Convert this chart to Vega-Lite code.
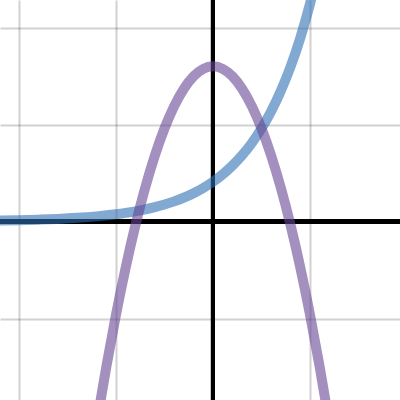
{
  "$schema": "https://vega.github.io/schema/vega-lite/v6.json",
  "width": 400,
  "height": 400,
  "autosize": {"type": "fit", "contains": "padding"},
  "padding": 0,
  "background": "white",
  "config": {
    "view": {"stroke": null},
    "axis": {"minExtent": 0, "maxExtent": 0, "offset": 0, "labels": false, "ticks": false, "domain": false, "title": null, "grid": true, "gridColor": "#000", "gridOpacity": 0.18, "gridWidth": 2}
  },
  "datasets": {
    "curves": [
      {"curve": "exp", "x": -2.3, "y": 0.0082},
      {"curve": "exp", "x": -2.0, "y": 0.0137},
      {"curve": "exp", "x": -1.8, "y": 0.0192},
      {"curve": "exp", "x": -1.6, "y": 0.027},
      {"curve": "exp", "x": -1.4, "y": 0.038},
      {"curve": "exp", "x": -1.2, "y": 0.0533},
      {"curve": "exp", "x": -1.0, "y": 0.0749},
      {"curve": "exp", "x": -0.9, "y": 0.0888},
      {"curve": "exp", "x": -0.8, "y": 0.1052},
      {"curve": "exp", "x": -0.7, "y": 0.1247},
      {"curve": "exp", "x": -0.6, "y": 0.1478},
      {"curve": "exp", "x": -0.5, "y": 0.1752},
      {"curve": "exp", "x": -0.4, "y": 0.2077},
      {"curve": "exp", "x": -0.3, "y": 0.2462},
      {"curve": "exp", "x": -0.2, "y": 0.2918},
      {"curve": "exp", "x": -0.1, "y": 0.3459},
      {"curve": "exp", "x": 0.0, "y": 0.41},
      {"curve": "exp", "x": 0.1, "y": 0.486},
      {"curve": "exp", "x": 0.2, "y": 0.576},
      {"curve": "exp", "x": 0.3, "y": 0.683},
      {"curve": "exp", "x": 0.4, "y": 0.809},
      {"curve": "exp", "x": 0.5, "y": 0.959},
      {"curve": "exp", "x": 0.6, "y": 1.137},
      {"curve": "exp", "x": 0.7, "y": 1.348},
      {"curve": "exp", "x": 0.8, "y": 1.597},
      {"curve": "exp", "x": 0.9, "y": 1.893},
      {"curve": "exp", "x": 1.0, "y": 2.244},
      {"curve": "exp", "x": 1.1, "y": 2.66},
      {"curve": "parab", "x": -1.2, "y": -2.0864},
      {"curve": "parab", "x": -1.1, "y": -1.4976},
      {"curve": "parab", "x": -1.0, "y": -0.96},
      {"curve": "parab", "x": -0.9, "y": -0.4736},
      {"curve": "parab", "x": -0.8, "y": -0.0384},
      {"curve": "parab", "x": -0.7, "y": 0.3456},
      {"curve": "parab", "x": -0.6, "y": 0.6784},
      {"curve": "parab", "x": -0.5, "y": 0.96},
      {"curve": "parab", "x": -0.4, "y": 1.1904},
      {"curve": "parab", "x": -0.3, "y": 1.3696},
      {"curve": "parab", "x": -0.2, "y": 1.4976},
      {"curve": "parab", "x": -0.1, "y": 1.5744},
      {"curve": "parab", "x": 0.0, "y": 1.6},
      {"curve": "parab", "x": 0.1, "y": 1.5744},
      {"curve": "parab", "x": 0.2, "y": 1.4976},
      {"curve": "parab", "x": 0.3, "y": 1.3696},
      {"curve": "parab", "x": 0.4, "y": 1.1904},
      {"curve": "parab", "x": 0.5, "y": 0.96},
      {"curve": "parab", "x": 0.6, "y": 0.6784},
      {"curve": "parab", "x": 0.7, "y": 0.3456},
      {"curve": "parab", "x": 0.8, "y": -0.0384},
      {"curve": "parab", "x": 0.9, "y": -0.4736},
      {"curve": "parab", "x": 1.0, "y": -0.96},
      {"curve": "parab", "x": 1.1, "y": -1.4976},
      {"curve": "parab", "x": 1.2, "y": -2.0864}
    ]
  },
  "data": {"name": "curves"},
  "layer": [
    {
      "mark": {"type": "rule", "color": "#000", "strokeWidth": 4, "clip": true},
      "encoding": {
        "x": {
          "datum": 0,
          "type": "quantitative",
          "scale": {"domain": [-2.196, 1.928], "nice": false, "zero": false},
          "axis": {"values": [-2, -1, 1]}
        }
      }
    },
    {
      "mark": {"type": "rule", "color": "#000", "strokeWidth": 4, "clip": true},
      "encoding": {
        "y": {
          "datum": 0,
          "type": "quantitative",
          "scale": {"domain": [-1.84, 2.284], "nice": false, "zero": false},
          "axis": {"values": [-1, 1, 2]}
        }
      }
    },
    {
      "mark": {"type": "line", "strokeWidth": 10, "clip": true, "interpolate": "monotone", "strokeCap": "round", "opacity": 0.6},
      "encoding": {
        "x": {"field": "x", "type": "quantitative"},
        "y": {"field": "y", "type": "quantitative"},
        "detail": {"field": "curve"},
        "color": {
          "field": "curve",
          "type": "nominal",
          "scale": {"domain": ["exp", "parab"], "range": ["#2d70b3", "#664693"]},
          "legend": null
        }
      }
    }
  ]
}
